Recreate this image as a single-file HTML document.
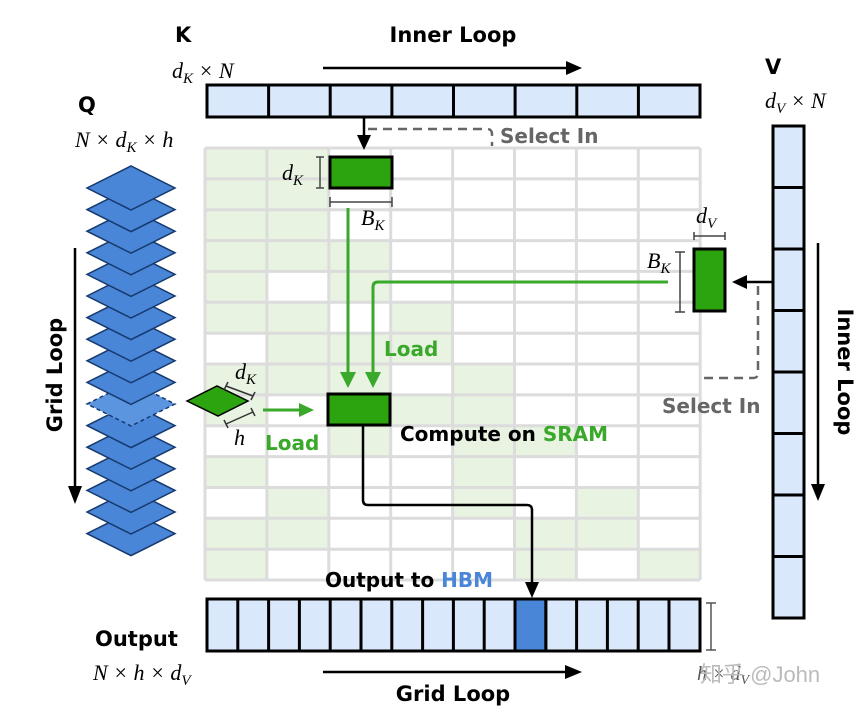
<!DOCTYPE html>
<html><head><meta charset="utf-8"><style>
html,body{margin:0;padding:0;background:#fff;}
svg{display:block;}
.b{font-family:"DejaVu Sans","Liberation Sans",sans-serif;font-weight:bold;}
.m{font-family:"Liberation Serif",serif;font-style:italic;}
</style></head><body>
<svg width="865" height="707" viewBox="0 0 865 707" xmlns="http://www.w3.org/2000/svg" xmlns:xlink="http://www.w3.org/1999/xlink">
<defs>
<path id="dm" d="M87,0 L131,-22 L175,0 L131,22Z"/>
</defs>
<g fill="#e8f3e2">
<rect x="205" y="148" width="62" height="185.2"/>
<rect x="205" y="364" width="62" height="61.7"/>
<rect x="205" y="456.6" width="62" height="30.9"/>
<rect x="205" y="518.3" width="62" height="61.7"/>
<rect x="266.9" y="148" width="62" height="123.4"/>
<rect x="266.9" y="302.3" width="62" height="92.6"/>
<rect x="266.9" y="487.5" width="62" height="61.7"/>
<rect x="328.8" y="240.6" width="62" height="61.7"/>
<rect x="328.8" y="333.2" width="62" height="123.4"/>
<rect x="390.7" y="302.3" width="62" height="61.7"/>
<rect x="390.7" y="394.9" width="62" height="30.9"/>
<rect x="452.6" y="364" width="62" height="154.3"/>
<rect x="514.5" y="425.7" width="62" height="30.9"/>
<rect x="514.5" y="518.3" width="62" height="61.7"/>
<rect x="576.4" y="487.5" width="62" height="61.7"/>
<rect x="638.3" y="549.2" width="62" height="30.9"/>
</g>
<path stroke="#dcdcdc" stroke-width="3" fill="none" d="
M205,148V580 M266.9,148V580 M328.8,148V580 M390.7,148V580 M452.6,148V580 M514.5,148V580 M576.4,148V580 M638.3,148V580 M700.2,148V580
M205,148H700 M205,178.9H700 M205,209.7H700 M205,240.6H700 M205,271.4H700 M205,302.3H700 M205,333.2H700 M205,364H700 M205,394.9H700 M205,425.7H700 M205,456.6H700 M205,487.5H700 M205,518.3H700 M205,549.2H700 M205,580H700"/>

<text x="175" y="42" class="b" font-size="21">K</text>
<text x="172" y="78" class="m" font-size="22">d<tspan font-size="15" dy="5">K</tspan><tspan dy="-5"> × N</tspan></text>
<text x="453" y="42" class="b" font-size="21" text-anchor="middle">Inner Loop</text>
<line x1="323" y1="68" x2="568" y2="68" stroke="#000" stroke-width="2.5"/>
<path d="M582,68 L566,61 L566,75Z" fill="#000"/>
<g stroke="#000" stroke-width="3" fill="#dae8fc">
<rect x="207" y="85" width="493" height="32"/>
<path d="M268.6,85V117 M330.2,85V117 M391.9,85V117 M453.5,85V117 M515.1,85V117 M576.8,85V117 M638.4,85V117"/>
</g>
<line x1="364" y1="117" x2="364" y2="136" stroke="#000" stroke-width="2.5"/>
<path d="M364,150 L357,135 L371,135Z" fill="#000"/>
<path d="M368,129 L487,129 Q492,129 492,134 L492,146" fill="none" stroke="#666" stroke-width="2.5" stroke-dasharray="9,6"/>
<text x="500" y="143" class="b" font-size="20" fill="#666">Select In</text>

<rect x="330" y="157" width="62" height="31" fill="#2ca40f" stroke="#000" stroke-width="3"/>
<text x="282" y="180" class="m" font-size="22">d<tspan font-size="15" dy="5">K</tspan></text>
<path d="M320,157 L320,188 M316,157 L324,157 M316,188 L324,188" stroke="#444" stroke-width="1.5"/>
<path d="M330,202 L392,202 M330,197 L330,207 M392,197 L392,207" stroke="#444" stroke-width="1.5"/>
<text x="361" y="225" class="m" font-size="22">B<tspan font-size="15" dy="5">K</tspan></text>

<text x="78" y="112" class="b" font-size="21">Q</text>
<text x="75" y="147" class="m" font-size="22">N × d<tspan font-size="15" dy="5">K</tspan><tspan dy="-5"> × h</tspan></text>
<g fill="#4a86d8" stroke="#163a6e" stroke-width="1.5">
<use xlink:href="#dm" href="#dm" y="533.6"/>
<use xlink:href="#dm" href="#dm" y="512"/>
<use xlink:href="#dm" href="#dm" y="490.4"/>
<use xlink:href="#dm" href="#dm" y="468.8"/>
<use xlink:href="#dm" href="#dm" y="447.2"/>
<use xlink:href="#dm" href="#dm" y="425.6"/>
<use xlink:href="#dm" href="#dm" y="404" stroke-dasharray="4,3" fill="#5b95e0"/>
<use xlink:href="#dm" href="#dm" y="382.4"/>
<use xlink:href="#dm" href="#dm" y="360.8"/>
<use xlink:href="#dm" href="#dm" y="339.2"/>
<use xlink:href="#dm" href="#dm" y="317.6"/>
<use xlink:href="#dm" href="#dm" y="296"/>
<use xlink:href="#dm" href="#dm" y="274.4"/>
<use xlink:href="#dm" href="#dm" y="252.8"/>
<use xlink:href="#dm" href="#dm" y="231.2"/>
<use xlink:href="#dm" href="#dm" y="209.6"/>
<use xlink:href="#dm" href="#dm" y="188"/>
</g>
<text transform="translate(62,375) rotate(-90)" class="b" font-size="21" text-anchor="middle">Grid Loop</text>
<line x1="75" y1="248" x2="75" y2="488" stroke="#000" stroke-width="2.5"/>
<path d="M75,504 L68,486 L82,486Z" fill="#000"/>

<path d="M187,401 L217,386 L248,401 L218,416Z" fill="#2ca40f" stroke="#000" stroke-width="1.5"/>
<text x="235" y="379" class="m" font-size="22">d<tspan font-size="15" dy="5">K</tspan></text>
<path d="M226,386 L253,396 M228,382 L224,390 M255,392 L251,400" stroke="#333" stroke-width="1.5"/>
<path d="M226,424 L253,412 M224,420 L228,428 M251,408 L255,416" stroke="#333" stroke-width="1.5"/>
<text x="234" y="445" class="m" font-size="22">h</text>
<line x1="263" y1="410" x2="300" y2="410" stroke="#3aa82a" stroke-width="3"/>
<path d="M314,410 L299,403 L299,417Z" fill="#3aa82a"/>
<text x="265" y="450" class="b" font-size="20" fill="#3aa82a">Load</text>

<line x1="348" y1="208" x2="348" y2="372" stroke="#3aa82a" stroke-width="3"/>
<path d="M348,388 L340,372 L356,372Z" fill="#3aa82a"/>
<path d="M668,282 L378,282 Q373,282 373,287 L373,372" fill="none" stroke="#3aa82a" stroke-width="3"/>
<path d="M373,388 L365,372 L381,372Z" fill="#3aa82a"/>
<text x="384" y="356" class="b" font-size="20" fill="#3aa82a">Load</text>

<rect x="328" y="394" width="62" height="31" fill="#2ca40f" stroke="#000" stroke-width="3"/>
<text x="400" y="441" class="b" font-size="20">Compute on <tspan fill="#3aa82a">SRAM</tspan></text>
<path d="M363,425 L363,500 Q363,505 368,505 L527,505 Q532,505 532,510 L532,582" fill="none" stroke="#000" stroke-width="2.5"/>
<path d="M532,598 L525,582 L539,582Z" fill="#000"/>
<text x="325" y="587" class="b" font-size="20">Output to <tspan fill="#4a86d8">HBM</tspan></text>

<text x="765" y="74" class="b" font-size="21">V</text>
<text x="765" y="108" class="m" font-size="22">d<tspan font-size="15" dy="5">V</tspan><tspan dy="-5"> × N</tspan></text>
<g stroke="#000" stroke-width="3" fill="#dae8fc">
<rect x="773" y="126" width="31" height="492"/>
<path d="M773,187.5H804 M773,249H804 M773,310.5H804 M773,372H804 M773,433.5H804 M773,495H804 M773,556.5H804"/>
</g>
<text transform="translate(838,372) rotate(90)" class="b" font-size="21" text-anchor="middle">Inner Loop</text>
<line x1="818" y1="243" x2="818" y2="485" stroke="#000" stroke-width="2.5"/>
<path d="M818,501 L811,484 L825,484Z" fill="#000"/>
<line x1="772" y1="282" x2="745" y2="282" stroke="#000" stroke-width="2.5"/>
<path d="M732,282 L747,275 L747,289Z" fill="#000"/>
<path d="M758,286 L758,373 Q758,378 753,378 L700,378" fill="none" stroke="#666" stroke-width="2.5" stroke-dasharray="9,6"/>
<text x="662" y="413" class="b" font-size="20" fill="#666">Select In</text>
<rect x="694" y="249" width="31" height="62" fill="#2ca40f" stroke="#000" stroke-width="3"/>
<text x="696" y="223" class="m" font-size="22">d<tspan font-size="15" dy="5">V</tspan></text>
<path d="M694,236 L725,236 M694,232 L694,240 M725,232 L725,240" stroke="#444" stroke-width="1.5"/>
<text x="647" y="268" class="m" font-size="22">B<tspan font-size="15" dy="5">K</tspan></text>
<path d="M680,252 L680,312 M675,252 L685,252 M675,312 L685,312" stroke="#444" stroke-width="1.5"/>

<text x="95" y="646" class="b" font-size="21">Output</text>
<text x="93" y="680" class="m" font-size="22">N × h × d<tspan font-size="15" dy="5">V</tspan></text>
<g stroke="#000" stroke-width="3" fill="#dae8fc">
<rect x="207" y="599" width="493" height="52"/>
<path d="M237.8,599V651 M268.6,599V651 M299.4,599V651 M330.2,599V651 M361,599V651 M391.8,599V651 M422.6,599V651 M453.4,599V651 M484.2,599V651 M545.8,599V651 M576.6,599V651 M607.4,599V651 M638.2,599V651 M669,599V651"/>
</g>
<rect x="515" y="599" width="30.8" height="52" fill="#4a86d8" stroke="#000" stroke-width="3"/>
<path d="M711,603 L711,650 M706,603 L716,603 M706,650 L716,650" stroke="#555" stroke-width="1.5"/>
<line x1="323" y1="672" x2="566" y2="672" stroke="#000" stroke-width="2.5"/>
<path d="M582,672 L565,665 L565,679Z" fill="#000"/>
<text x="453" y="701" class="b" font-size="21" text-anchor="middle">Grid Loop</text>
<text x="697" y="680" class="m" font-size="20" fill="#555">h × d<tspan font-size="14" dy="4">V</tspan></text>
<text x="700" y="682" font-family="'Liberation Sans','Noto Sans CJK SC',sans-serif" font-size="22" fill="#bbb">知乎 @John</text>
</svg>
</body></html>
